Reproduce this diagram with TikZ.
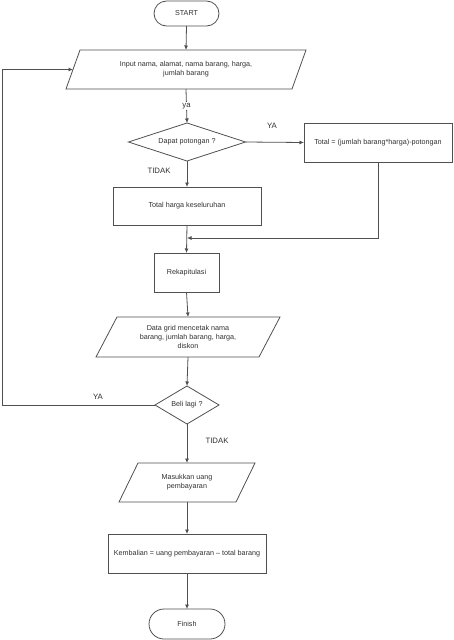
\documentclass[tikz,border=0pt]{standalone}
\usepackage{fontspec}
\setmainfont{Liberation Sans}
\usetikzlibrary{arrows.meta}
\definecolor{ln}{HTML}{505050}
\definecolor{tx}{HTML}{303030}
\tikzset{
  box/.style={draw=ln, line width=0.8pt, inner sep=0pt, outer sep=0pt, align=center, text=tx, font=\fontsize{7.2}{9}\selectfont},
  ghost/.style={draw=none, inner sep=0pt, outer sep=0pt, align=center, text=tx, font=\fontsize{7.2}{9}\selectfont},
  shp/.style={draw=ln, line width=0.8pt},
  arr/.style={draw=ln, line width=0.8pt, -{Latex[length=4.5pt,width=4pt]}},
  lbl/.style={text=tx, font=\fontsize{7.8}{9}\selectfont, inner sep=1pt},
}
\begin{document}
\begin{tikzpicture}[x=1pt,y=-1pt]
\useasboundingbox (0,0) rectangle (453,640);
% terminals
\node[box, rounded corners=12.5pt, minimum width=65pt, minimum height=25pt] (start) at (186.5,13.5) {START};
\node[box, rounded corners=15pt, minimum width=76pt, minimum height=30pt] (fin) at (187,624) {Finish};
% input parallelogram
\node[ghost, minimum width=226pt, minimum height=39pt] (in) at (186,69.5) {Input nama, alamat, nama barang, harga,\\jumlah barang};
\draw[shp] ([xshift=7pt]in.north west) -- ([xshift=7pt]in.north east) -- ([xshift=-7pt]in.south east) -- ([xshift=-7pt]in.south west) -- cycle;
% diamond dapat potongan
\node[ghost, minimum width=117pt, minimum height=38pt] (dp) at (187,142) {Dapat potongan ?};
\draw[shp] (dp.north) -- (dp.east) -- (dp.south) -- (dp.west) -- cycle;
% total box
\node[box, minimum width=148pt, minimum height=39pt] (tot) at (378,142.5) {Total = (jumlah barang*harga)-potongan};
% total harga
\node[box, minimum width=148pt, minimum height=38pt] (th) at (187,206) {Total harga keseluruhan};
% rekap
\node[box, minimum width=65pt, minimum height=39pt] (rek) at (186.5,272.5) {Rekapitulasi};
% data grid
\node[ghost, minimum width=163pt, minimum height=40pt] (dg) at (188,337) {Data grid mencetak nama\\barang, jumlah barang, harga,\\diskon};
\draw[shp] ([xshift=10.5pt]dg.north west) -- ([xshift=10.5pt]dg.north east) -- ([xshift=-10.5pt]dg.south east) -- ([xshift=-10.5pt]dg.south west) -- cycle;
% beli lagi
\node[ghost, minimum width=64pt, minimum height=38pt] (bl) at (187,405) {Beli lagi ?};
\draw[shp] (bl.north) -- (bl.east) -- (bl.south) -- (bl.west) -- cycle;
% masukkan
\node[ghost, minimum width=117pt, minimum height=39pt] (mu) at (187,482.5) {Masukkan uang\\pembayaran};
\draw[shp] ([xshift=9.5pt]mu.north west) -- ([xshift=9.5pt]mu.north east) -- ([xshift=-9.5pt]mu.south east) -- ([xshift=-9.5pt]mu.south west) -- cycle;
% kembalian
\node[box, minimum width=158pt, minimum height=39pt] (kb) at (187,553.5) {Kembalian = uang pembayaran -- total barang};
% connectors
\coordinate (j) at (187,238);
\coordinate (lp) at (2,405);
\draw[arr] (start.south) -- (in.north);
\draw[arr] (in.south) -- node[lbl, fill=white, pos=0.5] (ya) {ya} (dp.north);
\draw[arr] (dp.east) -- (tot.west);
\draw[arr] (dp.south) -- (th.north);
\draw[arr] (tot.south) |- (j);
\draw[arr] (th.south) -- (rek.north);
\draw[arr] (rek.south) -- (dg.north);
\draw[arr] (dg.south) -- (bl.north);
\draw[arr] (bl.west) -- (lp) |- (in.west);
\draw[arr] (bl.south) -- (mu.north);
\draw[arr] (mu.south) -- (kb.north);
\draw[arr] (kb.south) -- (fin.north);
% labels
\node[lbl] (l1) at (272,126) {YA};
\node[lbl] (l2) at (159,171) {TIDAK};
\node[lbl] (l3) at (98,397) {YA};
\node[lbl] (l4) at (217,441) {TIDAK};
\end{tikzpicture}
\end{document}
